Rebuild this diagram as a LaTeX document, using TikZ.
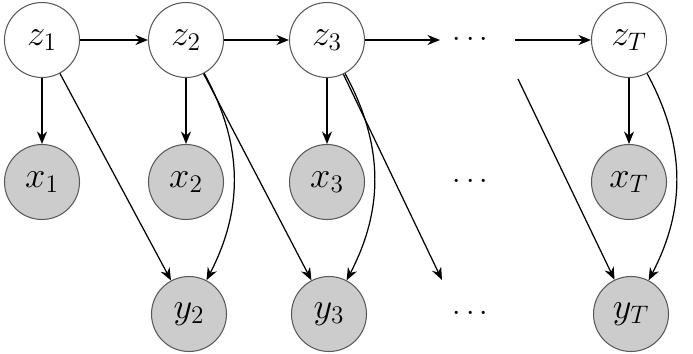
\documentclass[tikz,border=0pt]{standalone}
\usepackage{amsmath}
\usepackage{amssymb}
\usepackage{tikz}
\usetikzlibrary{arrows.meta}
\definecolor{obsgray}{rgb}{0.8,0.8,0.8}

\begin{document}
\begin{tikzpicture}[scale=1,
    latent/.style={draw=black!65, line width=0.6pt, circle, fill=white, minimum size=1.5cm, inner sep=0pt, font=\huge},
    obs/.style={latent, fill=obsgray},
    edge/.style={-{Stealth[length=0.25cm, width=0.2cm]}, line width=0.7pt}]
    \useasboundingbox (0,0) rectangle (13.86,7.06);

    \node[latent] (z1) at (0.84, 6.26) {$z_1$};
    \node[latent] (z2) at (3.72, 6.26) {$z_2$};
    \node[latent] (z3) at (6.54, 6.26) {$z_3$};
    \node[latent] (zT) at (12.58, 6.26) {$z_T$};

    \node[obs] (x1) at (0.84, 3.42) {$x_1$};
    \node[obs] (x2) at (3.72, 3.42) {$x_2$};
    \node[obs] (x3) at (6.54, 3.42) {$x_3$};
    \node[obs] (xT) at (12.58, 3.42) {$x_T$};

    \node[obs] (y2) at (3.78, 0.78) {$y_2$};
    \node[obs] (y3) at (6.58, 0.78) {$y_3$};
    \node[obs] (yT) at (12.62, 0.78) {$y_T$};

    % dots
    \node[font=\LARGE] (dz) at (9.46, 6.26) {$\cdots$};
    \node[font=\LARGE] (dx) at (9.46, 3.42) {$\cdots$};
    \node[font=\LARGE] (dy) at (9.46, 0.78) {$\cdots$};

    \coordinate (zin) at (8.8, 6.26);
    \coordinate (zout) at (10.3, 6.26);
    \coordinate (yin) at (8.84, 1.46);
    \coordinate (yout) at (10.36, 5.48);

    % chain
    \draw[edge] (z1) -- (z2);
    \draw[edge] (z2) -- (z3);
    \draw[edge] (z3) -- (zin);
    \draw[edge] (zout) -- (zT);

    % emissions
    \draw[edge] (z1) -- (x1);
    \draw[edge] (z2) -- (x2);
    \draw[edge] (z3) -- (x3);
    \draw[edge] (zT) -- (xT);

    % outputs
    \draw[edge] (z1) -- (y2);
    \draw[edge] (z2) to[bend left=28] (y2);
    \draw[edge] (z2) -- (y3);
    \draw[edge] (z3) to[bend left=28] (y3);
    \draw[edge] (z3) -- (yin);
    \draw[edge] (yout) -- (yT);
    \draw[edge] (zT) to[bend left=28] (yT);
\end{tikzpicture}
\end{document}
